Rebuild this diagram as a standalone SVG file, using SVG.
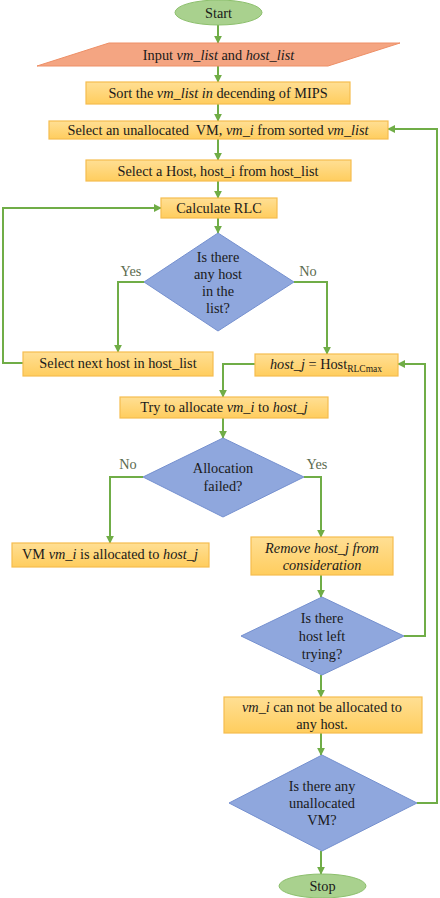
<svg xmlns="http://www.w3.org/2000/svg" width="440" height="898" viewBox="0 0 440 898" font-family="'Liberation Serif', 'Times New Roman', 'DejaVu Serif', serif">
<style>
text{font-family:"Liberation Serif","Times New Roman","DejaVu Serif",serif;font-size:14.3px;fill:#1a1a1a;text-anchor:middle}
.it{font-style:italic}
.box{fill:url(#gold);stroke:#f5bd4f;stroke-width:1.2}
.dia{fill:#8fa7dd;stroke:#7590cf;stroke-width:1}
.term{fill:#a9d18e;stroke:#8cbf6c;stroke-width:1}
.io{fill:#f4a582;stroke:#ee8f66;stroke-width:1}
.lbl{fill:#5b6b4e}
#connectors path{fill:none;stroke:#70ad47;stroke-width:2}
</style>
<defs>
<linearGradient id="gold" x1="0" y1="0" x2="0" y2="1">
<stop offset="0" stop-color="#ffdf94"/>
<stop offset="1" stop-color="#ffcd5e"/>
</linearGradient>
<marker id="arr" viewBox="0 0 10 10" refX="9" refY="5" markerWidth="8" markerHeight="8" markerUnits="userSpaceOnUse" orient="auto">
<path d="M0,0 L10,5 L0,10 z" fill="#70ad47"/>
</marker>
</defs>

<g id="connectors">
<path d="M218,25 V43" marker-end="url(#arr)"/>
<path d="M218,66 V82" marker-end="url(#arr)"/>
<path d="M218,104 V121" marker-end="url(#arr)"/>
<path d="M218,139 V160" marker-end="url(#arr)"/>
<path d="M218,181 V198" marker-end="url(#arr)"/>
<path d="M218,218 V233" marker-end="url(#arr)"/>
<path d="M144,282 H118 V352" marker-end="url(#arr)"/>
<path d="M294,282 H327 V354" marker-end="url(#arr)"/>
<path d="M23,363 H3 V208 H161" marker-end="url(#arr)"/>
<path d="M255,364 H223 V397" marker-end="url(#arr)"/>
<path d="M223,418 V438" marker-end="url(#arr)"/>
<path d="M143,477 H110 V543" marker-end="url(#arr)"/>
<path d="M304,477 H321 V537" marker-end="url(#arr)"/>
<path d="M321,575 V597" marker-end="url(#arr)"/>
<path d="M404,636 H425 V364 H398" marker-end="url(#arr)"/>
<path d="M321,675 V697" marker-end="url(#arr)"/>
<path d="M321,733 V755" marker-end="url(#arr)"/>
<path d="M417,803 H437 V129 H388" marker-end="url(#arr)"/>
<path d="M321,851 V874" marker-end="url(#arr)"/>
</g>

<g id="start">
<ellipse class="term" cx="218.5" cy="12.5" rx="43.5" ry="12.5"/>
<text x="218.5" y="17.5">Start</text>
</g>

<g id="input">
<polygon class="io" points="109,43 400,43 328,66 37,66"/>
<text x="218.5" y="60">Input <tspan class="it">vm_list</tspan> and <tspan class="it">host_list</tspan></text>
</g>

<g id="sort">
<rect class="box" x="86" y="82" width="264" height="22"/>
<text x="218" y="98">Sort the <tspan class="it">vm_list in</tspan> decending of MIPS</text>
</g>

<g id="selectvm">
<rect class="box" x="49" y="121" width="339" height="18"/>
<text x="218" y="135" xml:space="preserve">Select an unallocated  VM, <tspan class="it">vm_i</tspan> from sorted <tspan class="it">vm_list</tspan></text>
</g>

<g id="selecthost">
<rect class="box" x="86" y="160" width="265" height="21"/>
<text x="218" y="176">Select a Host, host_i from host_list</text>
</g>

<g id="calc">
<rect class="box" x="161" y="198" width="116" height="20"/>
<text x="219" y="213">Calculate RLC</text>
</g>

<g id="anyhost">
<polygon class="dia" points="218,233 294,282 218,331 144,282"/>
<text x="218" y="262">Is there</text>
<text x="218" y="279">any host</text>
<text x="218" y="296">in the</text>
<text x="218" y="313">list?</text>
<text class="lbl" x="131" y="276">Yes</text>
<text class="lbl" x="308" y="276">No</text>
</g>

<g id="nexthost">
<rect class="box" x="23" y="352" width="190" height="24"/>
<text x="118" y="368">Select next host in host_list</text>
</g>

<g id="hostj">
<rect class="box" x="255" y="354" width="143" height="22"/>
<text x="326" y="369"><tspan class="it">host_j</tspan> = Host<tspan font-size="9.5" dy="3">RLCmax</tspan></text>
</g>

<g id="tryalloc">
<rect class="box" x="120" y="397" width="208" height="21"/>
<text x="224" y="412">Try to allocate <tspan class="it">vm_i</tspan> to <tspan class="it">host_j</tspan></text>
</g>

<g id="failed">
<polygon class="dia" points="223,438 304,477 223,517 143,477"/>
<text x="223" y="473">Allocation</text>
<text x="223" y="491">failed?</text>
<text class="lbl" x="128" y="469">No</text>
<text class="lbl" x="317" y="469">Yes</text>
</g>

<g id="allocated">
<rect class="box" x="12" y="543" width="197" height="24"/>
<text x="110" y="559">VM <tspan class="it">vm_i</tspan> is allocated to <tspan class="it">host_j</tspan></text>
</g>

<g id="remove">
<rect class="box" x="251" y="537" width="142" height="38"/>
<text class="it" x="322" y="553">Remove host_j from</text>
<text class="it" x="322" y="570">consideration</text>
</g>

<g id="hostleft">
<polygon class="dia" points="322,597 404,636 322,675 241,636"/>
<text x="322" y="623">Is there</text>
<text x="322" y="641">host left</text>
<text x="322" y="659">trying?</text>
</g>

<g id="cannot">
<rect class="box" x="224" y="697" width="198" height="36"/>
<text x="322" y="712"><tspan class="it">vm_i</tspan> can not be allocated to</text>
<text x="322" y="729">any host.</text>
</g>

<g id="anyvm">
<polygon class="dia" points="322,755 417,803 322,851 229,803"/>
<text x="322" y="791">Is there any</text>
<text x="322" y="808">unallocated</text>
<text x="322" y="825">VM?</text>
</g>

<g id="stop">
<ellipse class="term" cx="322.5" cy="886" rx="43.5" ry="12"/>
<text x="322.5" y="891">Stop</text>
</g>
</svg>
